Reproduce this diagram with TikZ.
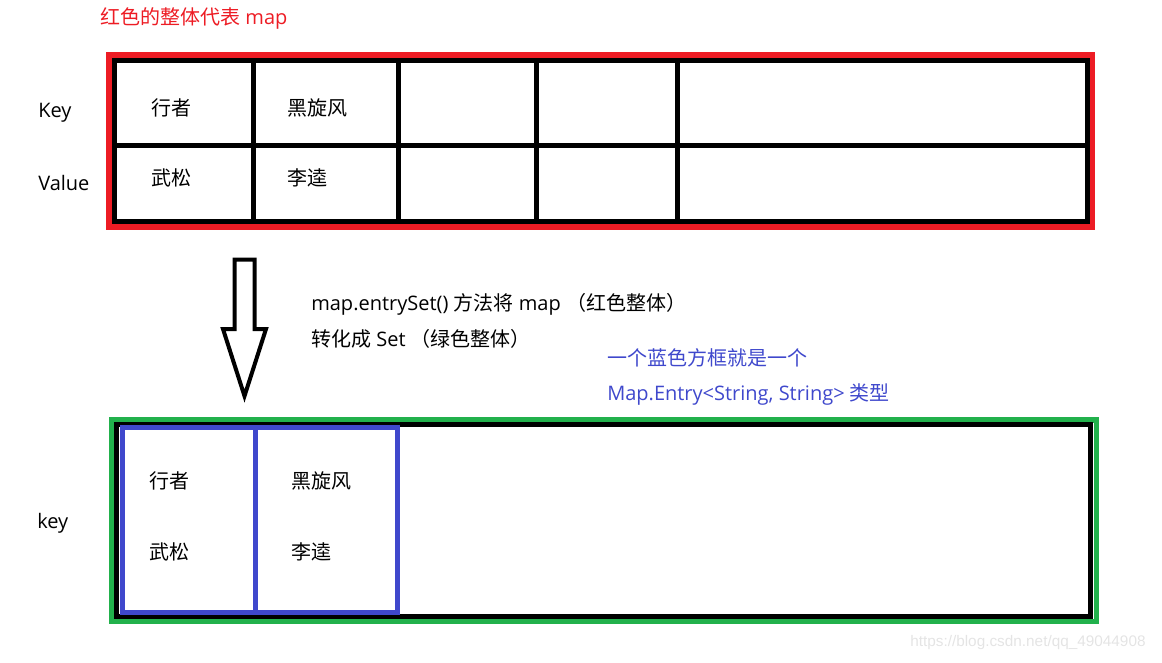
\documentclass[tikz,border=0pt]{standalone}
\usepackage{fontspec}
\setmainfont{Open Sans}
\newfontfamily\zhfont{Noto Sans CJK SC}
\newfontfamily\markfont{Liberation Sans}
\newcommand{\zh}[1]{{\zhfont #1}}
\usetikzlibrary{positioning}
\definecolor{mapred}{RGB}{237,28,36}
\definecolor{setgreen}{RGB}{34,177,76}
\definecolor{entryblue}{RGB}{63,72,204}
\definecolor{markgray}{RGB}{228,228,228}
\tikzset{cell/.style={anchor=west,inner sep=0pt,font=\fontsize{15}{18}\selectfont},
         redbox/.style={draw=mapred,line width=4.5pt},
         greenbox/.style={draw=setgreen,line width=4pt},
         bluebox/.style={draw=entryblue,line width=3.75pt},
         grid/.style={draw=black,line width=3.75pt}
}
\tikzstyle{hollow} = [draw=black,line width=3pt,line join=miter,fill=white]

\begin{document}
\begin{tikzpicture}[x=0.75pt,y=-0.75pt]
\useasboundingbox (0,0) rectangle (1162,662);

\node[cell,text=mapred] (title) at (100,18) {\zh{红色的整体代表} map};

% map table
\draw[redbox] (109,55) rectangle (1092,227);
\draw[grid] (114,60) rectangle (1087,221);
\draw[grid] (114,145) -- (1087,145);
\foreach \x in {253.5,398,536,677}
  \draw[grid] (\x,60) -- (\x,221);

\node[cell] (key) at (38,113) {Key};
\node[cell] (value) at (38,183) {Value};
\node[cell] (k1) at (151,108) {\zh{行者}};
\node[cell] (k2) at (287,108) {\zh{黑旋风}};
\node[cell] (v1) at (151,178) {\zh{武松}};
\node[cell] (v2) at (287,178) {\zh{李逵}};

% down arrow
\draw[hollow] (234.5,259.5) -- (254.5,259.5) -- (254.5,329) -- (266,329)
  -- (244.5,396) -- (223,329) -- (234.5,329) -- cycle;

\node[cell] (note1) at (311,304) {map.entrySet() \zh{方法将} map \zh{（红色整体）}};
\node[cell] (note2) at (311,339) {\zh{转化成} Set \zh{（绿色整体）}};
\node[cell,text=entryblue] (entry1) at (607,358) {\zh{一个蓝色方框就是一个}};
\node[cell,text=entryblue] (entry2) at (607,394) {Map.Entry<String, String>\ \zh{类型}};

% set
\draw[greenbox] (111.5,420) rectangle (1096.5,621.5);
\draw[grid] (116.5,424.5) rectangle (1090.5,616);
\draw[bluebox] (122.5,427.5) rectangle (397,612);
\draw[bluebox] (255,427.5) -- (255,612);

\node[cell] (setkey) at (37,523) {key};
\node[cell] (sk1) at (149,481) {\zh{行者}};
\node[cell] (sk2) at (291,481) {\zh{黑旋风}};
\node[cell] (sv1) at (149,552) {\zh{武松}};
\node[cell] (sv2) at (291,552) {\zh{李逵}};

\node[anchor=west,inner sep=0pt,text=markgray,font=\markfont\fontsize{11.5}{13}\selectfont] (mark) at (910,643) {https://blog.csdn.net/qq\_49044908};

\end{tikzpicture}
\end{document}
